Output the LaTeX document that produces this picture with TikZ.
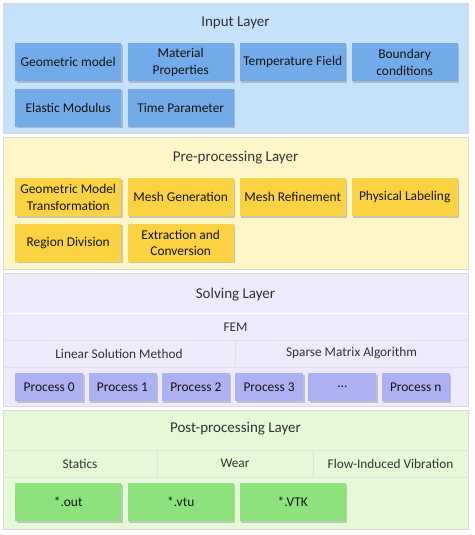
\documentclass[tikz,border=0pt]{standalone}
\usepackage{fontspec}
\setmainfont{Carlito}
\usetikzlibrary{shadows}

\definecolor{inbg}{RGB}{198,225,250}
\definecolor{inbox}{RGB}{114,170,234}
\definecolor{prebg}{RGB}{255,246,200}
\definecolor{prebox}{RGB}{250,210,66}
\definecolor{solbg}{RGB}{238,233,251}
\definecolor{solbox}{RGB}{172,177,241}
\definecolor{postbg}{RGB}{229,248,216}
\definecolor{postbox}{RGB}{142,226,126}

\begin{document}
\begin{tikzpicture}[x=1pt, y=-1pt,
    layer/.style={draw=black!15, anchor=north west, inner sep=0pt,
        minimum width=465pt,
        drop shadow={shadow xshift=1pt, shadow yshift=-1pt, opacity=0.3}},
    title/.style={font=\fontsize{15}{17}\selectfont, text=black!80},
    rowtext/.style={font=\fontsize{13.3}{15}\selectfont, text=black!80},
    box/.style={anchor=north west, inner sep=0pt, align=center,
        minimum width=106pt, minimum height=38pt,
        font=\fontsize{13.4}{16.5}\selectfont, text=black!92,
        drop shadow={shadow xshift=1.5pt, shadow yshift=-1.5pt, opacity=0.4}},
    procbox/.style={box, minimum width=68pt, minimum height=28pt},
    sep/.style={draw=black!12, line width=0.6pt}]
    \useasboundingbox (0,0) rectangle (474,535);

    % layers
    \node[layer, fill=inbg, minimum height=130pt] (input) at (3,3) {};
    \node[layer, fill=prebg, minimum height=132pt] (pre) at (3,137) {};
    \node[layer, fill=solbg, minimum height=133pt] (solve) at (3,273) {};
    \node[layer, fill=postbg, minimum height=119pt] (post) at (3,410) {};

    % input layer
    \node[title] (inputT) at (235.5,23) {Input Layer};
    \node[box, fill=inbox] (geo) at (15,43) {Geometric model};
    \node[box, fill=inbox] (mat) at (127.5,43) {Material\\Properties};
    \node[box, fill=inbox] (temp) at (239.5,43) {Temperature Field};
    \node[box, fill=inbox] (bound) at (351.5,43) {Boundary\\conditions};
    \node[box, fill=inbox] (elastic) at (15,88.5) {Elastic Modulus};
    \node[box, fill=inbox] (time) at (127.5,88.5) {Time Parameter};

    % pre-processing layer
    \node[title] (preT) at (235.5,158) {Pre-processing Layer};
    \node[box, fill=prebox] (trans) at (15,178) {Geometric Model\\Transformation};
    \node[box, fill=prebox] (meshgen) at (127.5,178) {Mesh Generation};
    \node[box, fill=prebox] (meshref) at (239.5,178) {Mesh Refinement};
    \node[box, fill=prebox] (label) at (351.5,178) {Physical Labeling};
    \node[box, fill=prebox] (region) at (15,223.5) {Region Division};
    \node[box, fill=prebox] (extract) at (127.5,223.5) {Extraction and\\Conversion};

    % solving layer
    \node[title] (solveT) at (235.5,295) {Solving Layer};
    \coordinate (s0l) at (3,313);   \coordinate (s0r) at (468,313);
    \coordinate (s1l) at (3,340);   \coordinate (s1r) at (468,340);
    \coordinate (s2l) at (3,367);   \coordinate (s2r) at (468,367);
    \coordinate (s1m) at (235,340); \coordinate (s2m) at (235,367);
    \draw[draw=white, line width=0.6pt] (s0l) -- (s0r);
    \draw[sep] (s1l) -- (s1r);
    \draw[sep] (s2l) -- (s2r);
    \draw[sep] (s1m) -- (s2m);
    \node[rowtext] (fem) at (235.5,327) {FEM};
    \node[rowtext] (linear) at (119,353.5) {Linear Solution Method};
    \node[rowtext] (sparse) at (351.5,353.5) {Sparse Matrix Algorithm};
    \foreach \i/\t in {0/{Process 0},1/{Process 1},2/{Process 2},3/{Process 3},4/{...},5/{Process n}}
        \node[procbox, fill=solbox] (proc\i) at (15+73.3*\i,373) {\t};

    % post-processing layer
    \node[title] (postT) at (235.5,429) {Post-processing Layer};
    \coordinate (p1l) at (3,450);   \coordinate (p1r) at (468,450);
    \coordinate (p2l) at (3,477);   \coordinate (p2r) at (468,477);
    \coordinate (p1a) at (157,450); \coordinate (p2a) at (157,477);
    \coordinate (p1b) at (313,450); \coordinate (p2b) at (313,477);
    \draw[sep] (p1l) -- (p1r);
    \draw[sep] (p2l) -- (p2r);
    \draw[sep] (p1a) -- (p2a);
    \draw[sep] (p1b) -- (p2b);
    \node[rowtext] (statics) at (80,463.5) {Statics};
    \node[rowtext] (wear) at (235,463.5) {Wear};
    \node[rowtext] (flow) at (390.5,463.5) {Flow-Induced Vibration};
    \node[box, fill=postbox] (out) at (15,483) {*.out};
    \node[box, fill=postbox] (vtu) at (127.5,483) {*.vtu};
    \node[box, fill=postbox] (vtk) at (239.5,483) {*.VTK};
\end{tikzpicture}
\end{document}
